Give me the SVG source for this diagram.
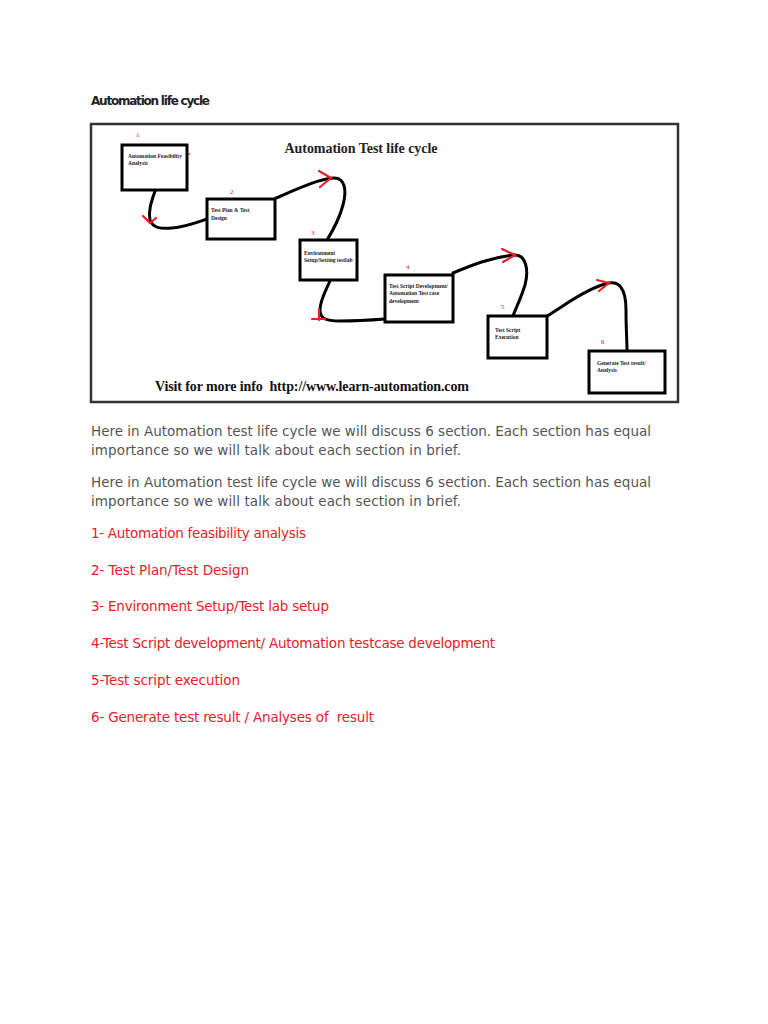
<svg xmlns="http://www.w3.org/2000/svg" width="768" height="1024" viewBox="0 0 768 1024">
<style>
.box{fill:#fff;stroke:#000;stroke-width:3}
.lbl{font-family:"Liberation Serif",serif;font-weight:bold;font-size:5.5px;fill:#222}
.num{font-family:"Liberation Serif",serif;font-size:7px;fill:#e02020}
.con{fill:none;stroke:#000;stroke-width:3;stroke-linecap:round}
.ah{fill:none;stroke:#e8202a;stroke-width:2.2;stroke-linecap:round}
.para{font-family:"DejaVu Sans",sans-serif;font-size:13.5px;fill:#555}
.red{font-family:"DejaVu Sans",sans-serif;font-size:13.5px;fill:#e8202a}
</style>
<rect width="768" height="1024" fill="#fff"/>
<text x="91" y="105" font-family="DejaVu Sans,sans-serif" font-weight="bold" font-size="12px" fill="#222" textLength="119">Automation life cycle</text>
<rect x="91" y="124" width="587" height="278" fill="#fff" stroke="#333" stroke-width="2.5"/>
<text x="361" y="153" text-anchor="middle" font-family="Liberation Serif,serif" font-weight="bold" font-size="14px" fill="#222" textLength="153">Automation Test life cycle</text>
<g id="connectors">
<path class="con" d="M155 191 C152 200 148 210 150 220 C153 228 160 229 172 228 C185 227 198 222 207 219"/>
<path class="con" d="M276 198 C295 190 315 180 333 178 C345 177 347 190 343 205 C339 220 332 232 327 240"/>
<path class="con" d="M330 281 C326 290 320 300 320 310 C320 318 325 321 340 321 C358 321 372 320 385 319"/>
<path class="con" d="M453 273 C472 265 492 257 514 255 C526 254 529 270 525 285 C521 298 516 308 513 316"/>
<path class="con" d="M547 316 C565 305 585 290 605 284 C620 279 626 290 626 310 C626 330 627 340 627 351"/>
<path class="ah" d="M143 216 L150 223 L156 218"/>
<path class="ah" d="M319 171 L331 178 L320 187"/>
<path class="ah" d="M319 309 L319 320 M312 319 L325 319"/>
<path class="ah" d="M502 249 L515 255 L503 262"/>
<path class="ah" d="M597 280 L609 283 L599 291"/>
</g>
<g id="n1"><text class="num" x="136" y="137">1</text><rect class="box" x="122" y="145" width="65" height="45"/><circle cx="189" cy="154" r="1" fill="#e02020"/><text class="lbl" x="128" y="158">Automation Feasibility</text><text class="lbl" x="128" y="165">Analysis</text></g>
<g id="n2"><text class="num" x="230" y="194">2</text><rect class="box" x="207" y="199" width="68" height="40"/><text class="lbl" x="211" y="212">Test Plan &amp; Test</text><text class="lbl" x="211" y="220">Design</text></g>
<g id="n3"><text class="num" x="311" y="235">3</text><rect class="box" x="300" y="240" width="57" height="40"/><text class="lbl" x="304" y="255">Environment</text><text class="lbl" x="304" y="262">Setup/Setting testlab</text></g>
<g id="n4"><text class="num" x="406" y="269">4</text><rect class="box" x="385" y="275" width="68" height="47"/><text class="lbl" x="389" y="288">Test Script Development/</text><text class="lbl" x="389" y="295">Automation Test case</text><text class="lbl" x="389" y="303">development</text></g>
<g id="n5"><text class="num" x="501" y="309">5</text><rect class="box" x="488" y="316" width="59" height="42"/><text class="lbl" x="495" y="332">Test Script</text><text class="lbl" x="495" y="339">Execution</text></g>
<g id="n6"><text class="num" x="601" y="344">6</text><rect class="box" x="589" y="351" width="76" height="42"/><text class="lbl" x="597" y="365">Generate Test result/</text><text class="lbl" x="597" y="372">Analysis</text></g>
<text x="155" y="391" font-family="Liberation Serif,serif" font-weight="bold" font-size="14px" fill="#111" xml:space="preserve" textLength="314">Visit for more info  http://www.learn-automation.com</text>
<text class="para" x="91" y="436" textLength="560">Here in Automation test life cycle we will discuss 6 section. Each section has equal</text>
<text class="para" x="91" y="455" textLength="370">importance so we will talk about each section in brief.</text>
<text class="para" x="91" y="487" textLength="560">Here in Automation test life cycle we will discuss 6 section. Each section has equal</text>
<text class="para" x="91" y="506" textLength="370">importance so we will talk about each section in brief.</text>
<text class="red" x="91" y="538" textLength="215">1- Automation feasibility analysis</text>
<text class="red" x="91" y="575" textLength="158">2- Test Plan/Test Design</text>
<text class="red" x="91" y="611" textLength="238">3- Environment Setup/Test lab setup</text>
<text class="red" x="91" y="648" textLength="404">4-Test Script development/ Automation testcase development</text>
<text class="red" x="91" y="685" textLength="149">5-Test script execution</text>
<text class="red" x="91" y="722" textLength="283" xml:space="preserve">6- Generate test result / Analyses of  result</text>
</svg>
